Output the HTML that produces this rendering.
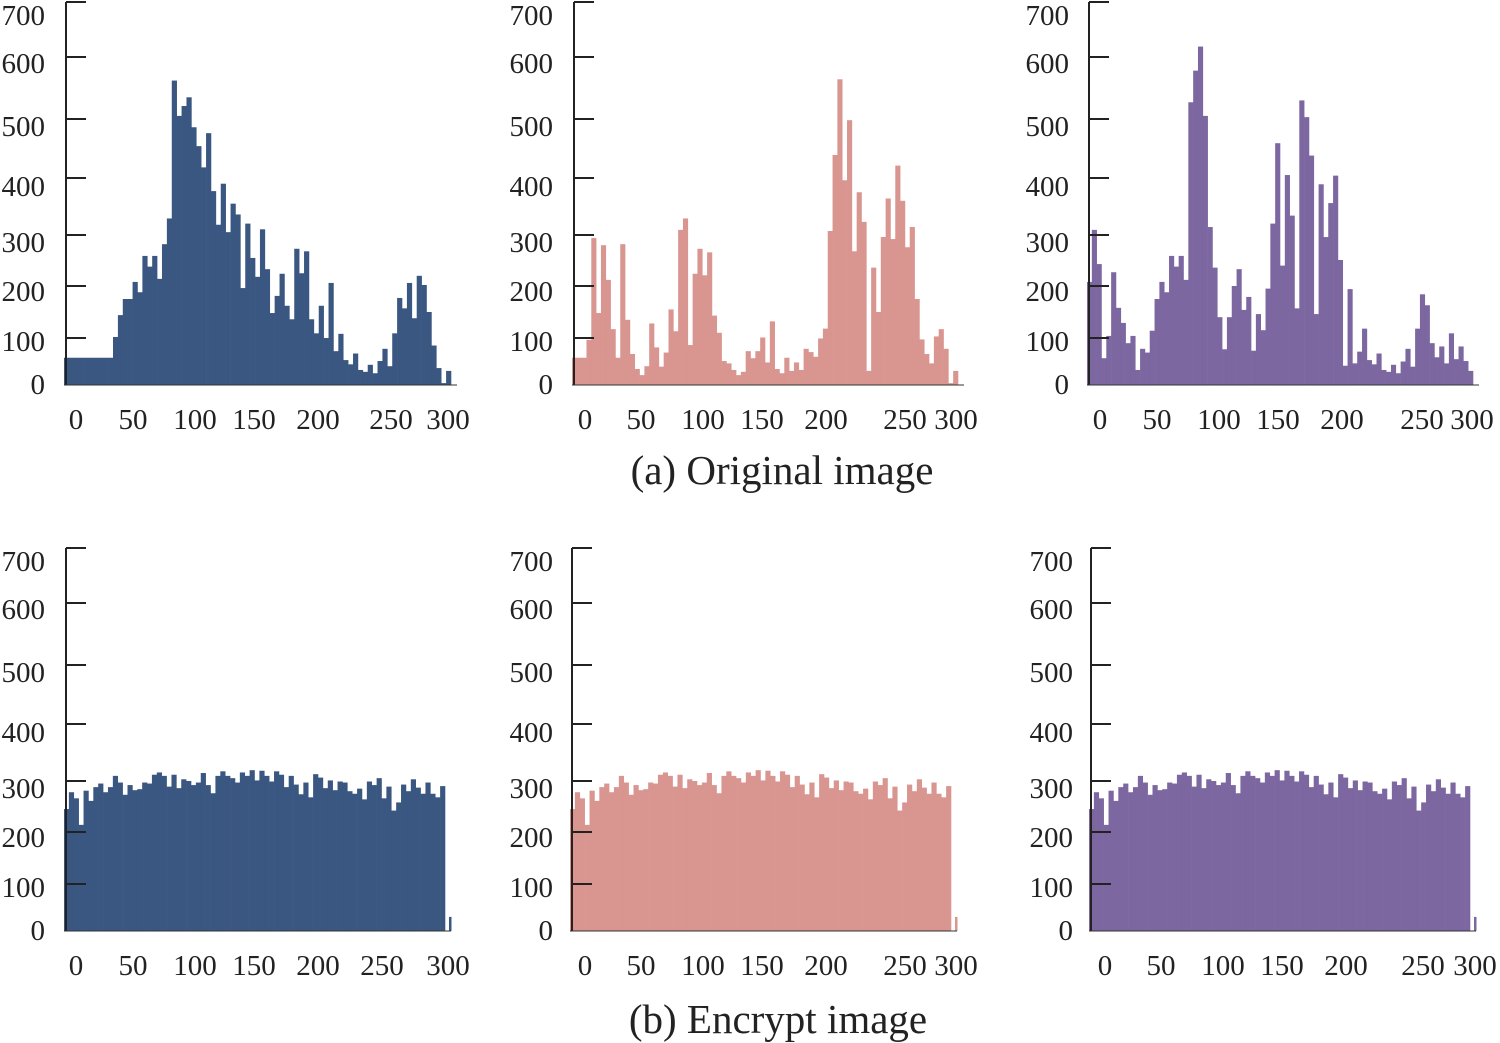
<!DOCTYPE html>
<html><head><meta charset="utf-8"><style>
html,body{margin:0;padding:0;background:#fff;}
svg{display:block;font-family:"Liberation Serif",serif;}
</style></head><body>
<svg id="fig" width="1500" height="1043" viewBox="0 0 1500 1043">
<text x="782" y="484" font-size="41" text-anchor="middle" fill="#222">(a) Original image</text>
<text x="778" y="1033" font-size="41" text-anchor="middle" fill="#222">(b) Encrypt image</text>
</svg>
<script>
const yTickValues=[0,100,200,300,400,500,600,700];
const xTickLabels=["0","50","100","150","200","250","300"];
const origBlue=[58,58,58,58,58,58,58,58,58,58,102,144,175,175,208,188,259,238,259,214,282,329,562,505,521,535,486,454,418,476,377,318,390,305,355,336,196,320,255,218,310,233,148,181,224,162,136,273,225,268,136,109,162,100,206,72,108,53,44,67,32,28,43,25,51,77,40,109,177,157,206,138,220,202,150,84,36,4,30];
const origPink=[58,58,58,96,294,148,280,212,117,58,282,135,66,34,21,40,128,80,39,69,155,113,309,329,85,224,273,221,266,143,110,51,46,32,21,28,72,57,72,101,48,132,34,25,58,30,48,32,77,70,60,99,118,307,439,564,396,498,268,375,323,30,236,150,296,364,292,421,360,276,314,175,97,66,46,103,117,77,4,30];
const origPurple=[208,309,243,57,104,227,158,129,89,104,32,77,69,114,175,208,188,259,238,259,212,527,578,619,505,314,236,140,76,140,200,233,154,179,73,146,115,195,320,459,240,405,334,157,530,503,438,146,389,296,356,404,251,41,194,46,71,118,53,44,67,32,28,43,25,50,77,39,118,184,163,89,59,82,46,109,55,82,51,30];
const encBlue=[245,278,266,214,281,261,288,295,278,288,309,297,273,292,282,284,297,295,311,315,309,289,311,286,303,300,292,297,314,292,276,309,317,309,305,297,315,309,319,301,318,309,299,317,311,288,309,293,274,297,268,312,306,286,301,282,299,297,280,275,285,264,299,292,305,266,289,242,258,293,280,303,287,275,297,275,268,290];
const encPink=[245,278,266,214,281,261,288,295,278,288,309,297,273,292,282,284,297,295,311,315,309,289,311,286,303,300,292,297,314,292,276,309,317,309,305,297,315,309,319,301,318,309,299,317,311,288,309,293,274,297,268,312,306,286,301,282,299,297,280,275,285,264,299,292,305,266,289,242,258,293,280,303,287,275,297,275,268,290];
const encPurple=[245,278,266,214,281,261,288,295,278,288,309,297,273,292,282,284,297,295,311,315,309,289,311,286,303,300,292,297,314,292,276,309,317,309,305,297,315,309,319,301,318,309,299,317,311,288,309,293,274,297,268,312,306,286,301,282,299,297,280,275,285,264,299,292,305,266,289,242,258,293,280,303,287,275,297,275,268,290];
const encTail=30;

const NS="http://www.w3.org/2000/svg";
const svg=document.getElementById('fig');
const tickPx=[385,338,286,235,178,119,57,2];
const labelPx=[384,341,291,242,186,126,63,15];
function yScale(v,off){
  let i=0;while(i<yTickValues.length-2&&v>yTickValues[i+1])i++;
  const t=(v-yTickValues[i])/(yTickValues[i+1]-yTickValues[i]);
  return off+tickPx[i]+t*(tickPx[i+1]-tickPx[i]);
}
function mk(tag,attrs,parent){const e=document.createElementNS(NS,tag);for(const k in attrs)e.setAttribute(k,attrs[k]);(parent||svg).appendChild(e);return e;}
const panels=[
 {name:'blue-original',data:origBlue,color:'#3a5781',x0:64,x1:451,ax:66,off:0,lblR:45,xl:[76,133,195,254,318,391,448],tail:false},
 {name:'pink-original',data:origPink,color:'#d9958f',x0:572,x1:958,ax:574,off:0,lblR:553,xl:[585,641,703,762,826,905,956],tail:false},
 {name:'purple-original',data:origPurple,color:'#7d67a0',x0:1087,x1:1473,ax:1089,off:0,lblR:1069,xl:[1100,1157,1219,1278,1342,1422,1472],tail:false},
 {name:'blue-encrypt',data:encBlue,color:'#3a5781',x0:64,x1:445,ax:66,off:546,lblR:45,xl:[76,133,195,254,318,382,448],tail:true},
 {name:'pink-encrypt',data:encPink,color:'#d9958f',x0:570,x1:951,ax:572,off:546,lblR:553,xl:[585,641,703,762,826,905,956],tail:true},
 {name:'purple-encrypt',data:encPurple,color:'#7d67a0',x0:1089,x1:1470,ax:1091,off:546,lblR:1073,xl:[1105,1161,1223,1282,1346,1423,1475],tail:true}
];
panels.forEach(p=>{
  const g=mk('g',{});
  
  
  const n=p.data.length,bw=(p.x1-p.x0)/n;
  const base=yScale(0,p.off);
  p.data.forEach((v,i)=>{
    const y=yScale(v,p.off);
    const r=mk('rect',{x:(p.x0+i*bw).toFixed(2),y:y.toFixed(2),width:(bw+0.3).toFixed(2),height:(base-y).toFixed(2),fill:p.color},g);
    
    
  });
  if(p.tail){
    const y=yScale(encTail,p.off);
    const r=mk('rect',{x:p.x1+4,y:y,width:2.5,height:base-y,fill:p.color},g);
    
    
  }
  const ax=mk('line',{x1:p.ax,y1:yScale(700,p.off),x2:p.ax,y2:base,stroke:'#222','stroke-width':2},g);
  
  
  const bl=mk('line',{x1:p.x0,y1:base,x2:p.x1+6,y2:base,stroke:'#333','stroke-width':1},g);
  
  
  yTickValues.forEach((v,i)=>{
    if(v>0){
      const t=mk('line',{x1:p.ax,y1:yScale(v,p.off),x2:p.ax+20,y2:yScale(v,p.off),stroke:'#222','stroke-width':2},g);
      
      
    }
    const tx=mk('text',{x:p.lblR,y:labelPx[i]+p.off+10,'font-size':29,'text-anchor':'end',fill:'#222'},g);
    tx.textContent=String(v);
    
    
  });
  xTickLabels.forEach((s,i)=>{
    const tx=mk('text',{x:p.xl[i],y:429+p.off,'font-size':29,'text-anchor':'middle',fill:'#222'},g);
    tx.textContent=s;
    
    
  });
});
</script>
</body></html>
